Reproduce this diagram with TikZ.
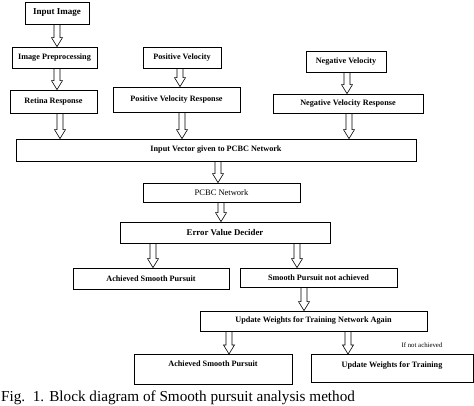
\documentclass[tikz,border=0pt]{standalone}
\usepackage{fontspec}
\setmainfont{Liberation Serif}
\usetikzlibrary{calc}
\begin{document}
\begin{tikzpicture}[x=1pt,y=-1pt,
  box/.style={draw, line width=0.8pt, inner sep=0pt, font=\bfseries\fontsize{8.2}{9}\selectfont},
  harrow/.style={line width=0.6pt, to path={let \p1=(\tikztostart), \p2=(\tikztotarget) in
     (\x1-3pt,\y1) -- (\x1-3pt,\y2+9pt) -- (\x1-5.5pt,\y2+9pt) -- (\x1,\y2) -- (\x1+5.5pt,\y2+9pt) -- (\x1+3pt,\y2+9pt) -- (\x1+3pt,\y1)}}]
\useasboundingbox (0,0) rectangle (474,405);
\node[box, minimum width=64pt, minimum height=22pt, font=\bfseries\fontsize{9}{10}\selectfont] (inimg) at (57,13) {Input Image};
\node[box, minimum width=85pt, minimum height=21pt] (pre) at (54.5,57.5) {Image Preprocessing};
\node[box, minimum width=78pt, minimum height=21pt] (posv) at (182,57.5) {Positive Velocity};
\node[box, minimum width=80pt, minimum height=21pt] (negv) at (346,61.5) {Negative Velocity};
\node[box, minimum width=87pt, minimum height=23pt] (ret) at (53.5,101.5) {Retina Response};
\node[box, minimum width=127pt, minimum height=25pt] (posr) at (176.5,99.5) {Positive Velocity Response};
\node[box, minimum width=150pt, minimum height=19pt] (negr) at (348,103.5) {Negative Velocity Response};
\node[box, minimum width=400pt, minimum height=22pt] (iv) at (216,150) {Input Vector given to PCBC Network};
\node[box, minimum width=157pt, minimum height=19pt, font=\fontsize{8.5}{9}\selectfont] (pcbc) at (221.5,192.5) {PCBC Network};
\node[box, minimum width=210pt, minimum height=21pt, font=\bfseries\fontsize{8.8}{9}\selectfont] (evd) at (225,232.5) {Error Value Decider};
\node[box, minimum width=156pt, minimum height=21pt] (ach1) at (151,278.5) {Achieved Smooth Pursuit};
\node[box, minimum width=157pt, minimum height=19pt] (spna) at (318.5,277.5) {Smooth Pursuit not achieved};
\node[box, minimum width=227pt, minimum height=20pt] (upd) at (313.5,321) {Update Weights for Training Network Again};
\node[box, anchor=north, minimum width=158pt, inner ysep=6pt, text height=6pt, text depth=12pt] (ach2) at (213,354) {Achieved Smooth Pursuit};
\node[box, anchor=north, minimum width=162pt, inner ysep=6pt, text height=7pt, text depth=9pt] (updt) at (392,354) {Update Weights for Training};
\node[font=\fontsize{6.8}{8}\selectfont, inner sep=0pt] (ifn) at (422,345) {If not achieved};
\node[anchor=base west, inner sep=0pt, font=\fontsize{15.2}{18}\selectfont] (cap) at (1,401.5) {Fig.~~1. Block diagram of Smooth pursuit analysis method};

\draw[harrow] (inimg.south) to (pre.north);
\draw[harrow] ($(pre.south)+(2.5,0)$) to (ret.north);
\draw[harrow] ($(posv.south)+(-2,0)$) to (posr.north);
\draw[harrow] ($(negv.south)+(1,0)$) to (negr.north);
\draw[harrow] ($(ret.south)+(6.5,0)$) to (iv.north);
\draw[harrow] ($(posr.south)+(5.5,0)$) to (iv.north);
\draw[harrow] ($(negr.south)+(1,0)$) to (iv.north);
\draw[harrow] ($(iv.south)+(2,0)$) to (pcbc.north);
\draw[harrow] ($(pcbc.south)+(-0.5,0)$) to (evd.north);
\draw[harrow] ($(evd.south)+(-72,0)$) to (ach1.north);
\draw[harrow] ($(evd.south)+(72,0)$) to (spna.north);
\draw[harrow] ($(spna.south)+(-14.5,0)$) to (upd.north);
\draw[harrow] ($(upd.south)+(-84.5,0)$) to (ach2.north);
\draw[harrow] ($(upd.south)+(34.5,0)$) to (updt.north);
\end{tikzpicture}
\end{document}
